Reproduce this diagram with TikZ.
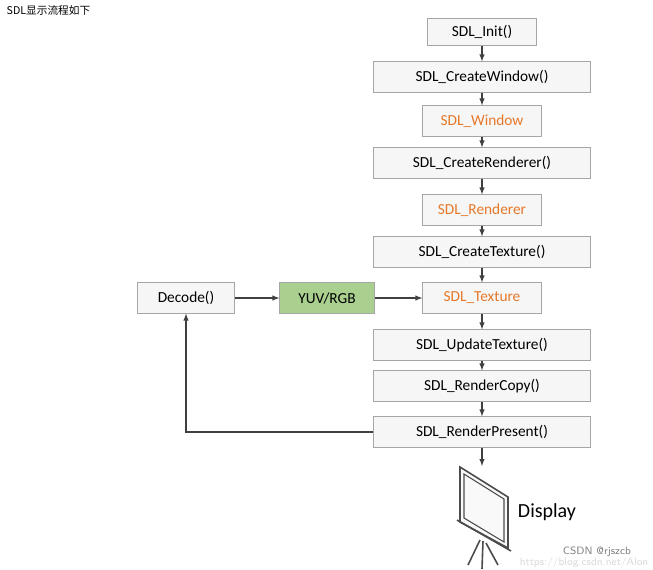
\documentclass[tikz,border=0pt]{standalone}
\usepackage{fontspec}
\setmainfont{Carlito}
\newfontfamily\cjk{Noto Sans CJK SC}
\usetikzlibrary{positioning}
\definecolor{sdlorange}{RGB}{230,120,40}
\definecolor{yuvgreen}{RGB}{169,208,142}
\tikzset{
  callbox/.style={draw=gray!70,fill=gray!7,minimum height=23pt,inner sep=0pt,font=\fontsize{11.5}{13}\selectfont},
  wide/.style={callbox,minimum width=163pt},
  narrow/.style={callbox,minimum width=89pt,text=sdlorange},
  flow/.style={->,>=latex,thick,draw=black!75}
}
\begin{document}
\begin{tikzpicture}[x=0.75pt,y=-0.75pt]
    \useasboundingbox (0,0) rectangle (653,569);
    \node[anchor=north west,font=\cjk\fontsize{8}{10}\selectfont] (title) at (2,1) {SDL显示流程如下};

    \node[callbox,minimum width=82pt,minimum height=20pt] (init) at (482,32) {SDL\_Init()};
    \node[wide] (cwin) at (482,77) {SDL\_CreateWindow()};
    \node[narrow] (win) at (482,121) {SDL\_Window};
    \node[wide] (crend) at (482,163) {SDL\_CreateRenderer()};
    \node[narrow] (rend) at (482,210) {SDL\_Renderer};
    \node[wide] (ctex) at (482,252) {SDL\_CreateTexture()};
    \node[narrow] (tex) at (482,298) {SDL\_Texture};
    \node[wide] (utex) at (482,345) {SDL\_UpdateTexture()};
    \node[wide] (rcopy) at (482,386) {SDL\_RenderCopy()};
    \node[wide] (rpres) at (482,432) {SDL\_RenderPresent()};
    \node[callbox,minimum width=73pt] (decode) at (186,298) {Decode()};
    \node[callbox,minimum width=71pt,fill=yuvgreen] (yuv) at (327,298) {YUV/RGB};
    \coordinate (screen) at (482,466);

    % display icon
    \draw[very thick,black!70,fill=gray!5] (460,467) -- (508,497) -- (508,548) -- (460,522) -- cycle;
    \draw[thick,black!70] (464,474) -- (504,499) -- (504,542) -- (464,518) -- cycle;
    \draw[very thick,black!70] (457,520) -- (511,551);
    \draw[very thick,black!70] (480,540) -- (468,565) (483,541) -- (482,569) (486,543) -- (498,565);
    \node[font=\fontsize{15}{17}\selectfont] (disp) at (547,512) {Display};
    \node[font=\sffamily\fontsize{8}{10}\selectfont,text=gray] (mark) at (597,552) {CSDN @rjszcb};
    \node[font=\sffamily\fontsize{8}{10}\selectfont,text=gray!30,anchor=east] (url) at (653,563) {https://blog.csdn.net/Alon};

    % arrows
    \draw[flow] (init) -- (cwin);
    \draw[flow] (cwin) -- (win);
    \draw[flow] (win) -- (crend);
    \draw[flow] (crend) -- (rend);
    \draw[flow] (rend) -- (ctex);
    \draw[flow] (ctex) -- (tex);
    \draw[flow] (tex) -- (utex);
    \draw[flow] (utex) -- (rcopy);
    \draw[flow] (rcopy) -- (rpres);
    \draw[flow] (rpres) -- (screen);
    \draw[flow] (decode) -- (yuv);
    \draw[flow] (yuv) -- (tex);
    \draw[flow] (rpres) -| (decode);
\end{tikzpicture}
\end{document}
